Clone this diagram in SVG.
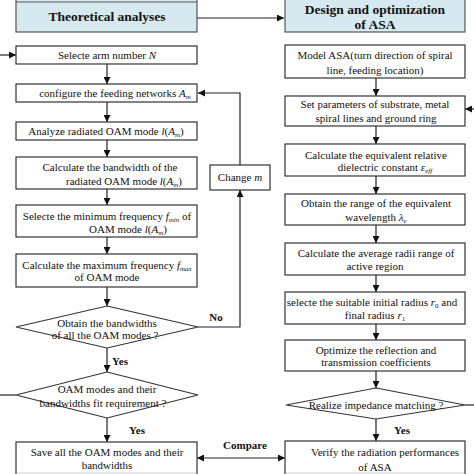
<svg xmlns="http://www.w3.org/2000/svg" width="474" height="474" viewBox="0 0 474 474">
<defs>
<marker id="ah" viewBox="0 0 10 10" refX="10" refY="5" markerWidth="7" markerHeight="7" orient="auto-start-reverse" markerUnits="userSpaceOnUse">
<path d="M0,0 L10,5 L0,10 z" fill="#111"/>
</marker>
<style>
.b{fill:#fff;stroke:#333;stroke-width:1.2}
.h{fill:#d6e9f1;stroke:#555;stroke-width:1.2}
.t{font-family:"Liberation Serif","Times New Roman",serif;font-size:11px;fill:#111;text-anchor:middle}
.hb{font-family:"Liberation Serif","Times New Roman",serif;font-size:13.5px;font-weight:bold;fill:#111;text-anchor:middle}
.lb{font-family:"Liberation Serif","Times New Roman",serif;font-size:11px;font-weight:bold;fill:#111;text-anchor:middle}
.i{font-style:italic}
.c{fill:none;stroke:#222;stroke-width:1.2}
.s{fill:#e4e8ea;stroke:none}
</style>
</defs>
<rect width="474" height="474" fill="#fff"/>

<g id="connectors">
<line class="c" x1="197" y1="18" x2="284" y2="18" marker-end="url(#ah)"/>
<line class="c" x1="0" y1="55" x2="16" y2="55" marker-end="url(#ah)"/>
<line class="c" x1="107" y1="64" x2="107" y2="84" marker-end="url(#ah)"/>
<line class="c" x1="107" y1="102" x2="107" y2="122" marker-end="url(#ah)"/>
<line class="c" x1="107" y1="140" x2="107" y2="157" marker-end="url(#ah)"/>
<line class="c" x1="107" y1="189" x2="107" y2="205" marker-end="url(#ah)"/>
<line class="c" x1="107" y1="237" x2="107" y2="254" marker-end="url(#ah)"/>
<line class="c" x1="107" y1="287" x2="107" y2="306" marker-end="url(#ah)"/>
<line class="c" x1="107" y1="348" x2="107" y2="372" marker-end="url(#ah)"/>
<line class="c" x1="107" y1="418" x2="107" y2="442" marker-end="url(#ah)"/>
<polyline class="c" points="198,327 240,327 240,190" marker-end="url(#ah)"/>
<polyline class="c" points="240,165 240,93 198,93" marker-end="url(#ah)"/>
<line class="c" x1="0" y1="395" x2="16" y2="395"/>
<line class="c" x1="197" y1="458" x2="285" y2="458" marker-start="url(#ah)" marker-end="url(#ah)"/>

<line class="c" x1="376" y1="78" x2="376" y2="96" marker-end="url(#ah)"/>
<line class="c" x1="376" y1="126" x2="376" y2="144" marker-end="url(#ah)"/>
<line class="c" x1="376" y1="176" x2="376" y2="194" marker-end="url(#ah)"/>
<line class="c" x1="376" y1="225" x2="376" y2="243" marker-end="url(#ah)"/>
<line class="c" x1="376" y1="275" x2="376" y2="292" marker-end="url(#ah)"/>
<line class="c" x1="376" y1="324" x2="376" y2="340" marker-end="url(#ah)"/>
<line class="c" x1="376" y1="371" x2="376" y2="388" marker-end="url(#ah)"/>
<line class="c" x1="376" y1="419" x2="376" y2="441" marker-end="url(#ah)"/>
<line class="c" x1="465" y1="405" x2="474" y2="405"/>
<line class="c" x1="474" y1="109" x2="465" y2="109" marker-end="url(#ah)"/>
</g>

<g id="labels">
<text class="lb" x="216" y="321">No</text>
<text class="lb" x="120" y="365">Yes</text>
<text class="lb" x="137" y="434">Yes</text>
<text class="lb" x="402" y="434">Yes</text>
<text class="lb" x="245" y="449">Compare</text>
</g>

<g id="header-left">
<rect class="h" x="16" y="-4" width="181" height="36"/>
<line x1="16" y1="2" x2="197" y2="2" stroke="#555" stroke-width="1"/>
<text class="hb" x="107" y="21">Theoretical analyses</text>
</g>
<g id="header-right">
<rect class="h" x="285" y="-4" width="180" height="36"/>
<text class="hb" x="375" y="14">Design and optimization</text>
<text class="hb" x="375" y="29">of ASA</text>
</g>

<g id="n1"><rect class="b" x="16" y="46" width="181" height="18"/>
<text class="t" x="107" y="59">Selecte  arm number <tspan class="i">N</tspan></text></g>
<g id="n2"><rect class="b" x="16" y="84" width="181" height="18"/>
<text class="t" x="115" y="97">configure the feeding networks  <tspan class="i">A</tspan><tspan class="i" font-size="7" dy="2">m</tspan></text></g>
<g id="n3"><rect class="b" x="16" y="122" width="181" height="18"/>
<text class="t" x="106" y="135">Analyze  radiated OAM mode <tspan class="i">l</tspan>(<tspan class="i">A</tspan><tspan class="i" font-size="7" dy="2">m</tspan><tspan dy="-2">)</tspan></text></g>
<g id="n4"><rect class="b" x="16" y="157" width="181" height="32"/>
<text class="t" x="110" y="171">Calculate the bandwidth of the</text>
<text class="t" x="124" y="185">radiated OAM mode   <tspan class="i">l</tspan>(<tspan class="i">A</tspan><tspan class="i" font-size="7" dy="2">m</tspan><tspan dy="-2">)</tspan></text></g>
<g id="n5"><rect class="b" x="16" y="205" width="181" height="32"/>
<text class="t" x="107" y="220">Selecte the minimum frequency <tspan class="i">f</tspan><tspan class="i" font-size="7" dy="2">min</tspan><tspan dy="-2"> of</tspan></text>
<text class="t" x="128" y="233">OAM mode   <tspan class="i">l</tspan>(<tspan class="i">A</tspan><tspan class="i" font-size="7" dy="2">m</tspan><tspan dy="-2">)</tspan></text></g>
<g id="n6"><rect class="b" x="16" y="254" width="181" height="33"/>
<text class="t" x="107" y="269">Calculate the maximum frequency <tspan class="i">f</tspan><tspan class="i" font-size="7" dy="2">max</tspan></text>
<text class="t" x="107" y="281">of OAM mode</text></g>
<g id="d1"><polygon class="b" points="107,306 198,327 107,348 16,327"/>
<text class="t" x="107" y="327">Obtain the bandwidths</text>
<text class="t" x="105" y="339">of all the OAM modes ?</text></g>
<g id="d2"><polygon class="b" points="107,372 198,395 107,418 16,395"/>
<text class="t" x="107" y="393">OAM modes and their</text>
<text class="t" x="103" y="407">bandwidths fit requirement  ?</text></g>
<g id="n7"><rect class="b" x="16" y="442" width="181" height="36"/>
<rect class="s" x="17" y="472" width="179" height="3"/>
<text class="t" x="107" y="456">Save all the OAM modes and their</text>
<text class="t" x="107" y="469">bandwidths</text></g>
<g id="chg"><rect class="b" x="210" y="165" width="60" height="25"/>
<text class="t" x="240" y="181">Change <tspan class="i">m</tspan></text></g>

<g id="r1"><rect class="b" x="285" y="45" width="180" height="33"/>
<text class="t" x="375" y="59">Model ASA(turn direction of spiral</text>
<text class="t" x="375" y="74">line, feeding location)</text></g>
<g id="r2"><rect class="b" x="285" y="96" width="180" height="30"/>
<text class="t" x="375" y="108">Set  parameters  of  substrate,  metal</text>
<text class="t" x="376" y="122">spiral lines and ground ring</text></g>
<g id="r3"><rect class="b" x="285" y="144" width="180" height="32"/>
<text class="t" x="376" y="159">Calculate the equivalent relative</text>
<text class="t" x="385" y="171">dielectric constant  <tspan class="i">ε</tspan><tspan class="i" font-size="7" dy="2">eff</tspan></text></g>
<g id="r4"><rect class="b" x="285" y="194" width="180" height="31"/>
<text class="t" x="376" y="207">Obtain the range of the equivalent</text>
<text class="t" x="376" y="221">wavelength <tspan class="i">λ</tspan><tspan class="i" font-size="7" dy="2">e</tspan></text></g>
<g id="r5"><rect class="b" x="285" y="243" width="180" height="32"/>
<text class="t" x="376" y="257">Calculate the average radii range of</text>
<text class="t" x="375" y="270">active region</text></g>
<g id="r6"><rect class="b" x="285" y="292" width="180" height="32"/>
<text class="t" x="372" y="306">selecte the suitable initial radius <tspan class="i">r</tspan><tspan font-size="7" dy="2">0</tspan><tspan dy="-2"> and</tspan></text>
<text class="t" x="375" y="319">final radius <tspan class="i">r</tspan><tspan font-size="7" dy="2">1</tspan></text></g>
<g id="r7"><rect class="b" x="285" y="340" width="180" height="31"/>
<text class="t" x="376" y="354">Optimize the reflection and</text>
<text class="t" x="376" y="366">transmission coefficients</text></g>
<g id="rd"><polygon class="b" points="376,388 465,405 376,419 286,405"/>
<text class="t" x="376" y="409">Realize impedance matching ?</text></g>
<g id="r8"><rect class="b" x="285" y="441" width="180" height="37"/>
<rect class="s" x="286" y="472" width="178" height="3"/>
<text class="t" x="385" y="456">Verify the radiation performances</text>
<text class="t" x="375" y="471">of  ASA</text></g>
</svg>
